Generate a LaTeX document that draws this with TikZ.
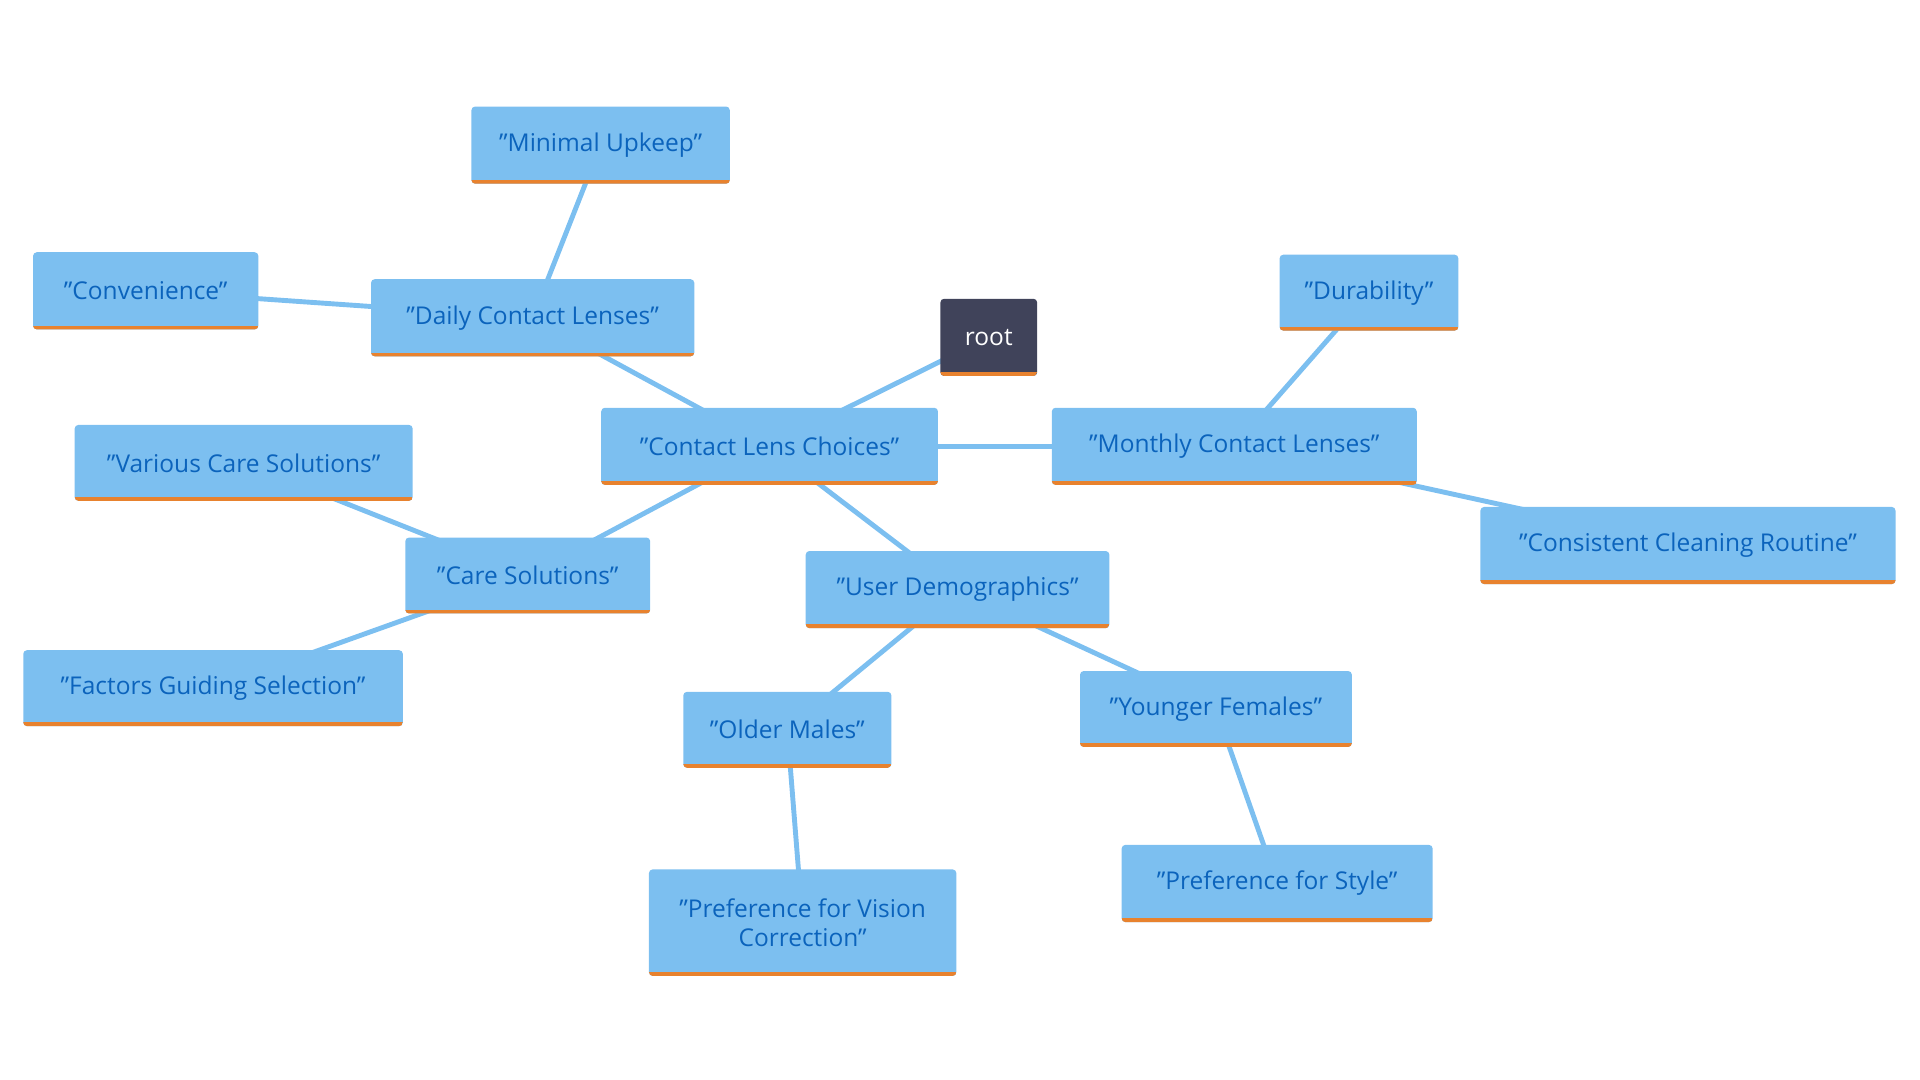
\documentclass[tikz,border=0pt]{standalone}
\usepackage{fontspec}
\setmainfont{Open Sans}
\usetikzlibrary{backgrounds}
\definecolor{boxfill}{HTML}{7CBFF0}
\definecolor{boxtext}{HTML}{0B63BC}
\definecolor{boxline}{HTML}{E8822E}
\definecolor{rootfill}{HTML}{40435A}
\definecolor{edge}{HTML}{7CBFF0}
\newcommand{\mybox}[7][box]{%
  \node[#1, minimum width={(#5-#3)*1pt}, minimum height={(#6-#4)*1pt}] (#2) at ({(#3+#5)/2},{(#4+#6)/2}) {#7};}
\begin{document}
\begin{tikzpicture}[x=1pt,y=-1pt,
  box/.style={fill=boxfill, text=boxtext, font=\fontsize{20}{24}\selectfont, align=center, inner sep=0pt,
    rounded corners=3pt,
    path picture={\draw[boxline,line width=6pt] (path picture bounding box.south west)--(path picture bounding box.south east);}},
  rootbox/.style={box, fill=rootfill, text=white},
  link/.style={draw=edge, line width=4pt}]
\useasboundingbox (0,0) rectangle (1568,882);
\mybox{minimal}{385}{87}{596}{150}{"Minimal Upkeep"}
\mybox{conv}{27}{206}{211}{269}{"Convenience"}
\mybox{daily}{303}{228}{567}{291}{"Daily Contact Lenses"}
\mybox[rootbox]{root}{768}{244}{847}{307}{root}
\mybox{clc}{491}{333}{766}{396}{"Contact Lens Choices"}
\mybox{monthly}{859}{333}{1157}{396}{"Monthly Contact Lenses"}
\mybox{dur}{1045}{208}{1191}{270}{"Durability"}
\mybox{cons}{1209}{414}{1548}{477}{"Consistent Cleaning Routine"}
\mybox{various}{61}{347}{337}{409}{"Various Care Solutions"}
\mybox{care}{331}{439}{531}{501}{"Care Solutions"}
\mybox{factors}{19}{531}{329}{593}{"Factors Guiding Selection"}
\mybox{user}{658}{450}{906}{513}{"User Demographics"}
\mybox{older}{558}{565}{728}{627}{"Older Males"}
\mybox{younger}{882}{548}{1104}{610}{"Younger Females"}
\mybox{vision}{530}{710}{781}{797}{"Preference for Vision\\Correction"}
\mybox{style}{916}{690}{1170}{753}{"Preference for Style"}
\begin{scope}[on background layer]
\path[link] (minimal.center)--(daily.center);
\path[link] (conv.center)--(daily.center);
\path[link] (daily.center)--(clc.center);
\path[link] (root.center)--(clc.center);
\path[link] (clc.center)--(monthly.center);
\path[link] (dur.center)--(monthly.center);
\path[link] (monthly.center)--(cons.center);
\path[link] (clc.center)--(care.center);
\path[link] (various.center)--(care.center);
\path[link] (care.center)--(factors.center);
\path[link] (clc.center)--(user.center);
\path[link] (user.center)--(older.center);
\path[link] (user.center)--(younger.center);
\path[link] (older.center)--(vision.center);
\path[link] (younger.center)--(style.center);
\end{scope}
\end{tikzpicture}
\end{document}
